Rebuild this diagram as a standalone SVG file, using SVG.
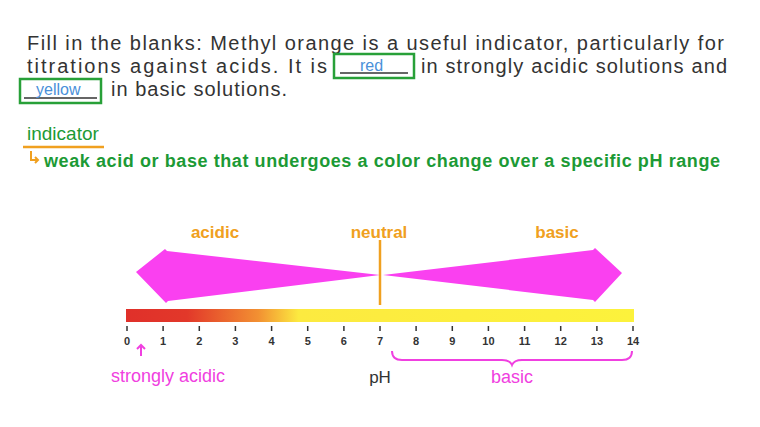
<svg xmlns="http://www.w3.org/2000/svg" width="760" height="427" viewBox="0 0 760 427">
<defs>
<linearGradient id="bar" x1="126" y1="0" x2="634" y2="0" gradientUnits="userSpaceOnUse">
<stop offset="0" stop-color="#e0302a"/>
<stop offset="0.12" stop-color="#e2382a"/>
<stop offset="0.26" stop-color="#f29032"/>
<stop offset="0.34" stop-color="#fcea40"/>
<stop offset="1" stop-color="#fcf23c"/>
</linearGradient>
<style>
.t{font-family:"Liberation Sans","Open Sans",sans-serif;font-size:20px;fill:#333}
.g{font-family:"Liberation Sans",sans-serif;font-size:18px;fill:#1c9a35;font-weight:bold}
.o{font-family:"Liberation Sans",sans-serif;font-size:17px;fill:#f0a020;font-weight:bold}
.m{font-family:"Liberation Sans",sans-serif;font-size:18px;fill:#f040e0}
.n{font-family:"Liberation Sans",sans-serif;font-size:11px;fill:#333;font-weight:bold;text-anchor:middle}
.b{font-family:"Liberation Sans",sans-serif;font-size:16px;fill:#4a90d9}
.box{fill:none;stroke:#28a038;stroke-width:2.5}
.tick{stroke:#333;stroke-width:1.5}
</style>
</defs>
<g id="question">
<text class="t" x="27" y="50" textLength="697">Fill in the blanks: Methyl orange is a useful indicator, particularly for</text>
<text class="t" x="27" y="73" textLength="300">titrations against acids. It is</text>
<text class="t" x="421" y="73" textLength="306">in strongly acidic solutions and</text>
<text class="t" x="111" y="96" textLength="176">in basic solutions.</text>
</g>
<g id="blank-red">
<rect class="box" x="334" y="54" width="80" height="24"/>
<line x1="340" y1="73" x2="408" y2="73" stroke="#333" stroke-width="1.5"/>
<text class="b" x="360" y="71">red</text>
</g>
<g id="blank-yellow">
<rect class="box" x="20" y="79" width="81" height="24"/>
<line x1="24" y1="98" x2="97" y2="98" stroke="#333" stroke-width="1.5"/>
<text class="b" x="36" y="95">yellow</text>
</g>
<g id="definition">
<text x="27" y="140" font-family="Liberation Sans, sans-serif" font-size="19" fill="#1c9a35">indicator</text>
<line x1="23" y1="147" x2="104" y2="147" stroke="#f0a020" stroke-width="2.5"/>
<path d="M31 151 L31 160 L38 160 M35 157 L38 160 L35 163" fill="none" stroke="#f0a020" stroke-width="2"/>
<text class="g" x="44" y="167" textLength="676">weak acid or base that undergoes a color change over a specific pH range</text>
</g>
<g id="acidic-arrow">
<polygon points="380,275 167,251 165,249 136,272 166,303 168,301" fill="#fa40f0"/>
<text class="o" x="215" y="238" text-anchor="middle">acidic</text>
</g>
<g id="basic-arrow">
<polygon points="383,275 593,250 595,248 622,273 595,302 593,300" fill="#fa40f0"/>
<text class="o" x="557" y="238" text-anchor="middle">basic</text>
</g>
<g id="neutral">
<line x1="380" y1="240" x2="380" y2="305" stroke="#f0a020" stroke-width="2.5"/>
<text class="o" x="379" y="238" text-anchor="middle">neutral</text>
</g>
<g id="ph-scale">
<rect x="126" y="309" width="508" height="13" fill="url(#bar)"/>
<g class="tick">
<line x1="127" y1="326" x2="127" y2="331"/><line x1="163.1" y1="326" x2="163.1" y2="331"/><line x1="199.3" y1="326" x2="199.3" y2="331"/><line x1="235.4" y1="326" x2="235.4" y2="331"/><line x1="271.6" y1="326" x2="271.6" y2="331"/><line x1="307.7" y1="326" x2="307.7" y2="331"/><line x1="343.9" y1="326" x2="343.9" y2="331"/><line x1="380" y1="326" x2="380" y2="331"/><line x1="416.1" y1="326" x2="416.1" y2="331"/><line x1="452.3" y1="326" x2="452.3" y2="331"/><line x1="488.4" y1="326" x2="488.4" y2="331"/><line x1="524.6" y1="326" x2="524.6" y2="331"/><line x1="560.7" y1="326" x2="560.7" y2="331"/><line x1="596.9" y1="326" x2="596.9" y2="331"/><line x1="633" y1="326" x2="633" y2="331"/>
</g>
<text class="n" x="127" y="345">0</text><text class="n" x="163.1" y="345">1</text><text class="n" x="199.3" y="345">2</text><text class="n" x="235.4" y="345">3</text><text class="n" x="271.6" y="345">4</text><text class="n" x="307.7" y="345">5</text><text class="n" x="343.9" y="345">6</text><text class="n" x="380" y="345">7</text><text class="n" x="416.1" y="345">8</text><text class="n" x="452.3" y="345">9</text><text class="n" x="488.4" y="345">10</text><text class="n" x="524.6" y="345">11</text><text class="n" x="560.7" y="345">12</text><text class="n" x="596.9" y="345">13</text><text class="n" x="633" y="345">14</text>
<text x="380" y="383" text-anchor="middle" font-family="Liberation Sans, sans-serif" font-size="17" fill="#333">pH</text>
</g>
<g id="strongly-acidic">
<path d="M141 356 L141 345 M137 349 L141 345 L145 349" fill="none" stroke="#f040e0" stroke-width="2"/>
<text class="m" x="168" y="382" text-anchor="middle">strongly acidic</text>
</g>
<g id="basic-range">
<path d="M392 351 Q392 360 402 360 L502 360 Q510 360 512 365 Q514 360 522 360 L622 360 Q632 360 632 351" fill="none" stroke="#f040e0" stroke-width="2"/>
<text class="m" x="512" y="383" text-anchor="middle">basic</text>
</g>
</svg>
